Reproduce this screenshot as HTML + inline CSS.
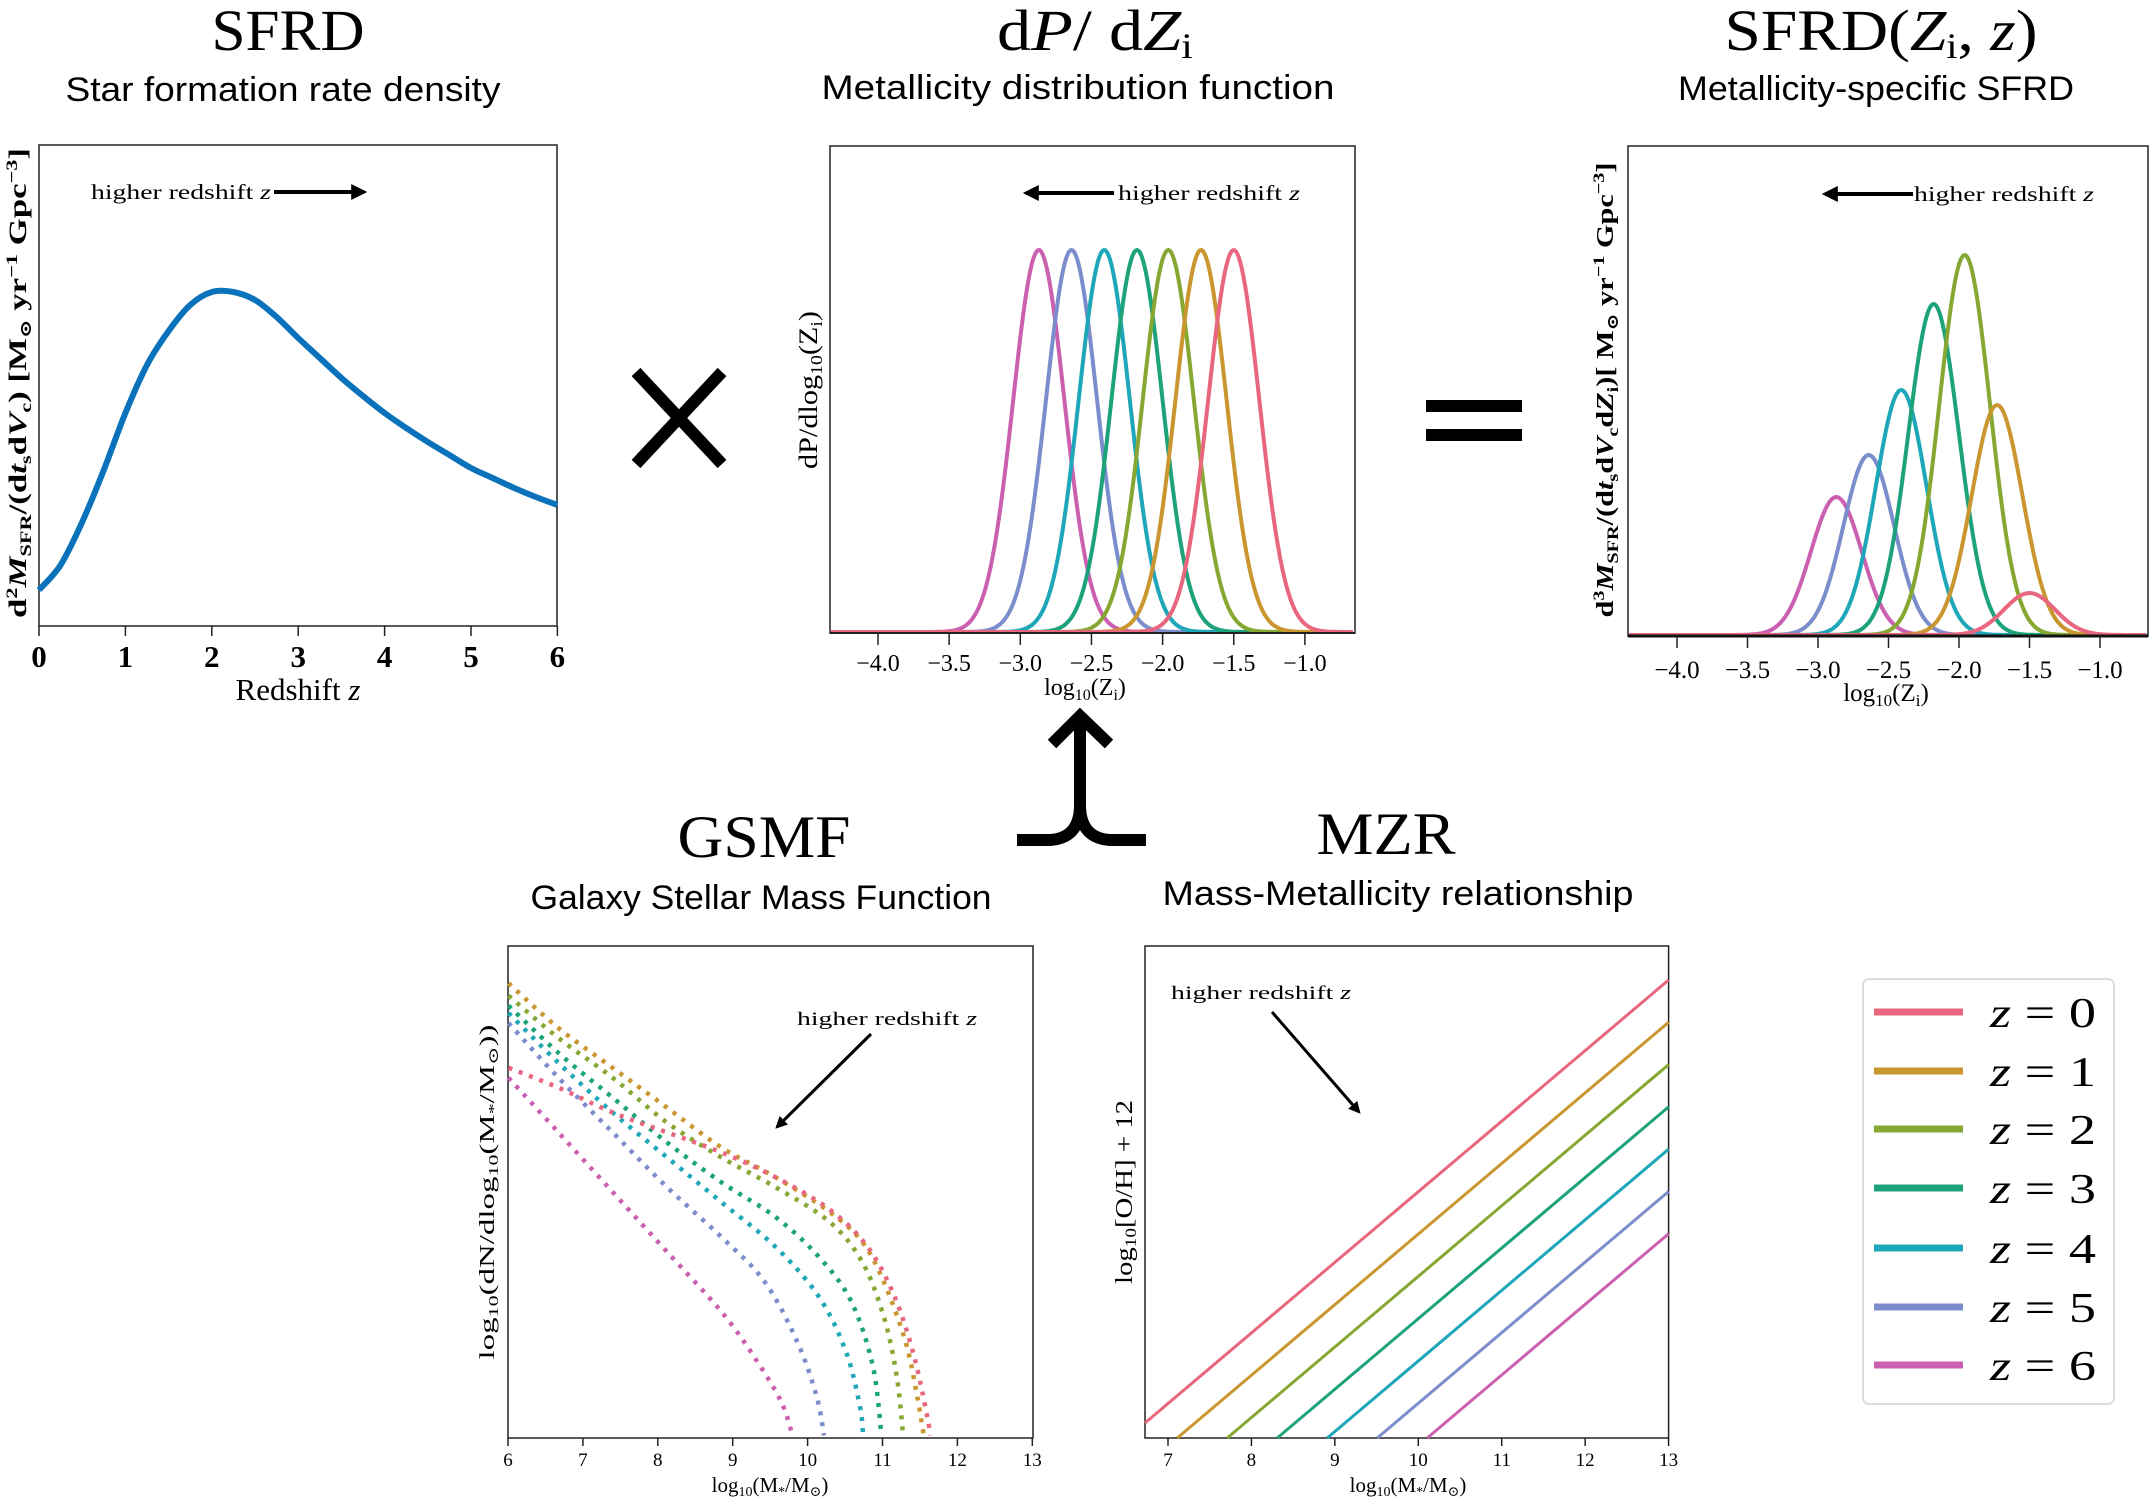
<!DOCTYPE html>
<html><head><meta charset="utf-8">
<style>
html,body{margin:0;padding:0;background:#fff;}
svg{display:block;}
.serif{font-family:"Liberation Serif","DejaVu Serif",serif;}
.sans{font-family:"Liberation Sans","DejaVu Sans",sans-serif;}
</style></head>
<body>
<svg id="s" width="2150" height="1499" viewBox="0 0 2150 1499" xmlns="http://www.w3.org/2000/svg">
<defs>
<marker id="ah" viewBox="0 0 10 10" refX="8" refY="5" markerWidth="4" markerHeight="4" orient="auto"><path d="M0,0 L10,5 L0,10 z" fill="#000"/></marker>
</defs>
<g class="serif" fill="#000" text-anchor="middle">
<text x="288" y="50" font-size="58" textLength="153" lengthAdjust="spacingAndGlyphs">SFRD</text>
<text x="1095" y="50" font-size="58" textLength="196" lengthAdjust="spacingAndGlyphs">d<tspan font-style="italic">P</tspan>/ d<tspan font-style="italic">Z</tspan><tspan font-size="36" dy="8">i</tspan></text>
<text x="1881" y="50" font-size="58" textLength="313" lengthAdjust="spacingAndGlyphs">SFRD(<tspan font-style="italic">Z</tspan><tspan font-size="36" dy="8">i</tspan><tspan dy="-8">, </tspan><tspan font-style="italic">z</tspan>)</text>
<text x="764" y="857" font-size="60" textLength="173" lengthAdjust="spacingAndGlyphs">GSMF</text>
<text x="1386" y="854" font-size="60" textLength="139" lengthAdjust="spacingAndGlyphs">MZR</text>
</g>
<g class="sans" fill="#000" text-anchor="middle" font-size="34">
<text x="283" y="101" textLength="435" lengthAdjust="spacingAndGlyphs">Star formation rate density</text>
<text x="1078" y="99" textLength="513" lengthAdjust="spacingAndGlyphs">Metallicity distribution function</text>
<text x="1876" y="100" textLength="396" lengthAdjust="spacingAndGlyphs">Metallicity-specific SFRD</text>
<text x="761" y="909" textLength="461" lengthAdjust="spacingAndGlyphs">Galaxy Stellar Mass Function</text>
<text x="1398" y="905" textLength="471" lengthAdjust="spacingAndGlyphs">Mass-Metallicity relationship</text>
</g>
<g stroke="#000" stroke-width="12" fill="none">
<line x1="636" y1="372" x2="722" y2="464"/><line x1="722" y1="372" x2="636" y2="464"/>
</g>
<rect x="1426" y="400" width="96" height="12" fill="#000"/>
<rect x="1426" y="429" width="96" height="12" fill="#000"/>
<g stroke="#000" stroke-width="12" fill="none">
<path d="M1080,715 L1080,805 Q1080,838 1050,840 L1017,840"/>
<path d="M1080,805 Q1080,838 1110,840 L1146,840"/>
<path d="M1052,744 L1080,716 L1109,744"/>
</g>
<g id="plots"></g>
</svg>
<script>
const NS="http://www.w3.org/2000/svg";
const P=document.getElementById('plots');
function el(t,a,txt){const e=document.createElementNS(NS,t);for(const k in a)e.setAttribute(k,a[k]);if(txt!==undefined)e.textContent=txt;P.appendChild(e);return e;}
function html(s){P.insertAdjacentHTML('beforeend',s);}
const C=['#e8677f','#c9962f','#86a832','#1da37c','#1ea6b9','#7b8dcb','#cc60b0'];
function cr(pts){
 let d='M'+pts[0][0]+','+pts[0][1];
 for(let i=0;i<pts.length-1;i++){const p0=pts[Math.max(0,i-1)],p1=pts[i],p2=pts[i+1],p3=pts[Math.min(pts.length-1,i+2)];
  d+=` C${p1[0]+(p2[0]-p0[0])/6},${p1[1]+(p2[1]-p0[1])/6} ${p2[0]-(p3[0]-p1[0])/6},${p2[1]-(p3[1]-p1[1])/6} ${p2[0]},${p2[1]}`;}
 return d;}
// Panel 1
el('rect',{x:39,y:145,width:518,height:481,fill:'none',stroke:'#222','stroke-width':1.5});
for(let k=0;k<=6;k++){const x=39+k*86.4;el('line',{x1:x,y1:626,x2:x,y2:636,stroke:'#222','stroke-width':1.5});
 el('text',{x:x,y:667,'font-size':31,'font-weight':'bold','text-anchor':'middle',class:'serif'},String(k));}
html('<text class="serif" x="298" y="700" font-size="31" text-anchor="middle">Redshift <tspan font-style="italic">z</tspan></text>');
html('<text class="serif" transform="translate(26,383) rotate(-90)" font-size="25" font-weight="bold" text-anchor="middle" textLength="470" lengthAdjust="spacingAndGlyphs">d<tspan font-size="16" dy="-9">2</tspan><tspan dy="9" font-style="italic">M</tspan><tspan font-size="16" dy="5">SFR</tspan><tspan dy="-5">/(d</tspan><tspan font-style="italic">t</tspan><tspan font-size="16" dy="5">s</tspan><tspan dy="-5">d</tspan><tspan font-style="italic">V</tspan><tspan font-size="16" dy="5">c</tspan><tspan dy="-5">) [M</tspan><tspan font-size="16" dy="5">⊙</tspan><tspan dy="-5"> yr</tspan><tspan font-size="16" dy="-9">−1</tspan><tspan dy="9"> Gpc</tspan><tspan font-size="16" dy="-9">−3</tspan><tspan dy="9">]</tspan></text>');
{const ys=[590,565,522,470,413,365,331,305,292,292,300,317,338,358,378,396,413,428,442,455,468,478,488,497,505];
 el('path',{d:cr(ys.map((y,i)=>[39+i*0.25*86.4,y])),fill:'none',stroke:'#0a72ba','stroke-width':6});}
html('<text class="serif" x="91" y="199" font-size="21" textLength="180" lengthAdjust="spacingAndGlyphs">higher redshift <tspan font-style="italic">z</tspan></text>');
el('line',{x1:274,y1:192,x2:364,y2:192,stroke:'#000','stroke-width':4,'marker-end':'url(#ah)'});
const mus=[-1.50,-1.73,-1.96,-2.18,-2.41,-2.64,-2.87];
function gauss(x0,sc,x1,xr,base,peak,mu,sig){let pts=[];for(let px=x0;px<=x1;px+=1.5){const v=(px-xr)/sc-4;pts.push([px,base-peak*Math.exp(-0.5*((v-mu)/sig)**2)]);}return 'M'+pts.map(p=>p[0].toFixed(1)+','+p[1].toFixed(1)).join(' L');}
// Panel 2
el('rect',{x:830,y:146,width:525,height:487,fill:'none',stroke:'#222','stroke-width':1.5});
const lab=['−4.0','−3.5','−3.0','−2.5','−2.0','−1.5','−1.0'];
for(let i=6;i>=0;i--){el('path',{d:gauss(831,142.3,1354,878,632,382,mus[i],0.18),fill:'none',stroke:C[i],'stroke-width':4});}
el('line',{x1:830,y1:633,x2:1355,y2:633,stroke:'#222','stroke-width':2});
for(let k=0;k<7;k++){const x=878+k*71.15;el('line',{x1:x,y1:633,x2:x,y2:645,stroke:'#222','stroke-width':1.5});
 el('text',{x:x,y:671,'font-size':24,'text-anchor':'middle',class:'serif'},lab[k]);}
html('<text class="serif" x="1085" y="695" font-size="24" text-anchor="middle">log<tspan font-size="16" dy="5">10</tspan><tspan dy="-5">(Z</tspan><tspan font-size="16" dy="5">i</tspan><tspan dy="-5">)</tspan></text>');
html('<text class="serif" transform="translate(817,390) rotate(-90)" font-size="26" text-anchor="middle" textLength="158" lengthAdjust="spacingAndGlyphs">dP/dlog<tspan font-size="17" dy="5">10</tspan><tspan dy="-5">(Z</tspan><tspan font-size="17" dy="5">i</tspan><tspan dy="-5">)</tspan></text>');
el('line',{x1:1114,y1:193,x2:1026,y2:193,stroke:'#000','stroke-width':4,'marker-end':'url(#ah)'});
html('<text class="serif" x="1118" y="200" font-size="21" textLength="182" lengthAdjust="spacingAndGlyphs">higher redshift <tspan font-style="italic">z</tspan></text>');
// Panel 3
el('rect',{x:1628,y:146,width:520,height:490,fill:'none',stroke:'#222','stroke-width':1.5});
const pk=[593,405,255,304,390,455,497];
for(let i=6;i>=0;i--){el('path',{d:gauss(1629,141,2147,1677,635,635-pk[i],mus[i],0.18),fill:'none',stroke:C[i],'stroke-width':4});}
el('line',{x1:1628,y1:636,x2:2148,y2:636,stroke:'#111','stroke-width':3});
for(let k=0;k<7;k++){const x=1677+k*70.5;el('line',{x1:x,y1:636,x2:x,y2:648,stroke:'#222','stroke-width':1.5});
 el('text',{x:x,y:678,'font-size':25,'text-anchor':'middle',class:'serif'},lab[k]);}
html('<text class="serif" x="1886" y="701" font-size="25" text-anchor="middle">log<tspan font-size="17" dy="5">10</tspan><tspan dy="-5">(Z</tspan><tspan font-size="17" dy="5">i</tspan><tspan dy="-5">)</tspan></text>');
html('<text class="serif" transform="translate(1613,390) rotate(-90)" font-size="24" font-weight="bold" text-anchor="middle" textLength="455" lengthAdjust="spacingAndGlyphs">d<tspan font-size="16" dy="-9">3</tspan><tspan dy="9" font-style="italic">M</tspan><tspan font-size="16" dy="5">SFR</tspan><tspan dy="-5">/(d</tspan><tspan font-style="italic">t</tspan><tspan font-size="16" dy="5">s</tspan><tspan dy="-5">d</tspan><tspan font-style="italic">V</tspan><tspan font-size="16" dy="5">c</tspan><tspan dy="-5">d</tspan><tspan font-style="italic">Z</tspan><tspan font-size="16" dy="5">i</tspan><tspan dy="-5">)[ M</tspan><tspan font-size="16" dy="5">⊙</tspan><tspan dy="-5"> yr</tspan><tspan font-size="16" dy="-9">−1</tspan><tspan dy="9"> Gpc</tspan><tspan font-size="16" dy="-9">−3</tspan><tspan dy="9">]</tspan></text>');
el('line',{x1:1913,y1:194,x2:1825,y2:194,stroke:'#000','stroke-width':4,'marker-end':'url(#ah)'});
html('<text class="serif" x="1914" y="201" font-size="21" textLength="180" lengthAdjust="spacingAndGlyphs">higher redshift <tspan font-style="italic">z</tspan></text>');
// GSMF
el('rect',{x:508,y:946,width:525,height:492,fill:'none',stroke:'#222','stroke-width':1.5});
const gs=[
[[54,700],[100,740],[150,790],[200,830],[250,870],[300,920],[350,985],[385,1060],[410,1160],[428,1280],[440,1400],[443,1440]],
[[54,530],[100,620],[150,700],[200,780],[250,860],[300,920],[350,990],[380,1050],[400,1130],[420,1250],[430,1350],[437,1440]],
[[54,555],[100,640],[150,720],[200,810],[250,880],[300,940],[350,1010],[380,1090],[400,1200],[412,1320],[418,1440]],
[[54,575],[100,670],[150,760],[200,850],[250,930],[300,1000],[340,1080],[370,1170],[390,1300],[398,1440]],
[[54,590],[100,690],[150,790],[200,880],[250,970],[300,1060],[340,1160],[365,1270],[378,1380],[381,1440]],
[[54,610],[100,720],[150,830],[200,940],[250,1040],[290,1130],[320,1250],[338,1360],[345,1440]],
[[54,720],[100,830],[150,950],[200,1070],[250,1190],[280,1280],[305,1370],[316,1440]]];
for(let i=6;i>=0;i--){el('path',{d:cr(gs[i].map(p=>[p[0]/0.9224+450,p[1]/2.0128+720])),fill:'none',stroke:C[i],'stroke-width':4.5,'stroke-dasharray':'4 7'});}
for(let k=6;k<=13;k++){const x=508+(k-6)*74.9;el('line',{x1:x,y1:1438,x2:x,y2:1446,stroke:'#222','stroke-width':1.5});
 el('text',{x:x,y:1466,'font-size':19,'text-anchor':'middle',class:'serif'},String(k));}
html('<text class="serif" x="770" y="1492" font-size="21" text-anchor="middle">log<tspan font-size="14" dy="4">10</tspan><tspan dy="-4">(M</tspan><tspan font-size="14" dy="4">*</tspan><tspan dy="-4">/M</tspan><tspan font-size="14" dy="4">⊙</tspan><tspan dy="-4">)</tspan></text>');
html('<text class="serif" transform="translate(494,1192) rotate(-90)" font-size="21" text-anchor="middle" textLength="335" lengthAdjust="spacingAndGlyphs">log<tspan font-size="14" dy="4">10</tspan><tspan dy="-4">(dN/dlog</tspan><tspan font-size="14" dy="4">10</tspan><tspan dy="-4">(M</tspan><tspan font-size="14" dy="4">*</tspan><tspan dy="-4">/M</tspan><tspan font-size="14" dy="4">⊙</tspan><tspan dy="-4">))</tspan></text>');
html('<text class="serif" x="797" y="1025" font-size="19" textLength="180" lengthAdjust="spacingAndGlyphs">higher redshift <tspan font-style="italic">z</tspan></text>');
el('line',{x1:871,y1:1034,x2:777,y2:1127,stroke:'#000','stroke-width':3,'marker-end':'url(#ah)'});
// MZR
el('rect',{x:1145,y:946,width:523.6,height:492,fill:'none',stroke:'#222','stroke-width':1.5});
for(let i=0;i<7;i++){const yr=980+42.3*i;const s=0.846;
 let x0=1145,y0=yr+s*(1668.6-x0);if(y0>1438){x0=1668.6-(1438-yr)/s;y0=1438;}
 el('line',{x1:x0,y1:y0,x2:1668.6,y2:yr,stroke:C[i],'stroke-width':3});}
for(let k=7;k<=13;k++){const x=1168+(k-7)*83.43;el('line',{x1:x,y1:1438,x2:x,y2:1446,stroke:'#222','stroke-width':1.5});
 el('text',{x:x,y:1466,'font-size':19,'text-anchor':'middle',class:'serif'},String(k));}
html('<text class="serif" x="1408" y="1492" font-size="21" text-anchor="middle">log<tspan font-size="14" dy="4">10</tspan><tspan dy="-4">(M</tspan><tspan font-size="14" dy="4">*</tspan><tspan dy="-4">/M</tspan><tspan font-size="14" dy="4">⊙</tspan><tspan dy="-4">)</tspan></text>');
html('<text class="serif" transform="translate(1132,1192) rotate(-90)" font-size="24" text-anchor="middle" textLength="184" lengthAdjust="spacingAndGlyphs">log<tspan font-size="16" dy="4">10</tspan><tspan dy="-4">[O/H] + 12</tspan></text>');
html('<text class="serif" x="1171" y="999" font-size="19" textLength="180" lengthAdjust="spacingAndGlyphs">higher redshift <tspan font-style="italic">z</tspan></text>');
el('line',{x1:1272,y1:1012,x2:1359,y2:1112,stroke:'#000','stroke-width':3,'marker-end':'url(#ah)'});
// Legend
el('rect',{x:1863,y:979,width:251,height:425,rx:6,fill:'#fff',stroke:'#ddd','stroke-width':2});
const ly=[1012,1071,1129,1188,1248,1307,1365];
for(let i=0;i<7;i++){el('line',{x1:1874,y1:ly[i],x2:1963,y2:ly[i],stroke:C[i],'stroke-width':7});
 html(`<text class="serif" x="1990" y="${ly[i]+15}" font-size="42" textLength="106" lengthAdjust="spacingAndGlyphs"><tspan font-style="italic">z</tspan> = ${i}</text>`);}
</script>
</body></html>
